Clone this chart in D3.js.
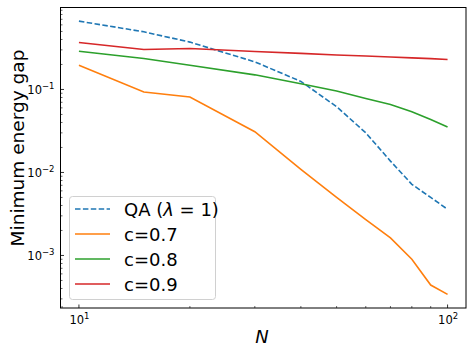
<!DOCTYPE html>
<html><head><meta charset="utf-8">
<script src="https://cdn.jsdelivr.net/npm/d3@7"></script>
<style>
html,body{margin:0;padding:0;background:#fff;}
svg{display:block;font-family:"DejaVu Sans",sans-serif;}
</style></head><body>
<svg id="chart" width="474" height="355"></svg>
<script>
const N = [10, 15, 20, 30, 40, 50, 60, 70, 80, 90, 100];
const qa  = [0.665, 0.495, 0.372, 0.215, 0.125, 0.062, 0.030, 0.0137, 0.0072, 0.0050, 0.0036];
const c07 = [0.196, 0.093, 0.081, 0.031, 0.0109, 0.0050, 0.0027, 0.00163, 0.00090, 0.00044, 0.00034];
const c08 = [0.289, 0.236, 0.196, 0.150, 0.117, 0.096, 0.078, 0.066, 0.054, 0.0435, 0.0352];
const c09 = [0.368, 0.303, 0.312, 0.287, 0.272, 0.260, 0.253, 0.246, 0.240, 0.235, 0.230];
const seriesNames = ["QA", "c=0.7", "c=0.8", "c=0.9"];
const seriesColors = ["#1f77b4", "#ff7f0e", "#2ca02c", "#d62728"];
const xMajorTicks = [10, 100];
const yMajorTicks = [1e-1, 1e-2, 1e-3];
const xLabel = "N";
const yLabel = "Minimum energy gap";

const series = [qa, c07, c08, c09];
const svg = d3.select("#chart");
const m = {l: 60.5, r: 466, t: 7.5, b: 308};

function logPad(lo, hi) {
  const a = Math.log10(lo), b = Math.log10(hi), p = (b - a) * 0.05;
  return [Math.pow(10, a - p), Math.pow(10, b + p)];
}
const allY = series.flat();
const x = d3.scaleLog().domain(logPad(d3.min(N), d3.max(N))).range([m.l, m.r]);
const y = d3.scaleLog().domain(logPad(d3.min(allY), d3.max(allY))).range([m.b, m.t]);

function minorTicks(domain) {
  const out = [];
  const lo = Math.floor(Math.log10(domain[0])), hi = Math.ceil(Math.log10(domain[1]));
  for (let e = lo; e <= hi; e++) for (let k = 2; k <= 9; k++) {
    const v = k * Math.pow(10, e);
    if (v >= domain[0] && v <= domain[1]) out.push(v);
  }
  return out;
}
const g = svg.append("g");
g.selectAll(".xmin").data(minorTicks(x.domain())).enter().append("line")
  .attr("x1", d => x(d)).attr("x2", d => x(d)).attr("y1", m.b).attr("y2", m.b - 2)
  .attr("stroke", "#000").attr("stroke-width", 0.6);
g.selectAll(".xmaj").data(xMajorTicks).enter().append("line")
  .attr("x1", d => x(d)).attr("x2", d => x(d)).attr("y1", m.b).attr("y2", m.b - 3.5)
  .attr("stroke", "#000").attr("stroke-width", 0.8);
g.selectAll(".ymin").data(minorTicks(y.domain())).enter().append("line")
  .attr("y1", d => y(d)).attr("y2", d => y(d)).attr("x1", m.l).attr("x2", m.l + 2)
  .attr("stroke", "#000").attr("stroke-width", 0.6);
g.selectAll(".ymaj").data(yMajorTicks).enter().append("line")
  .attr("y1", d => y(d)).attr("y2", d => y(d)).attr("x1", m.l).attr("x2", m.l + 3.5)
  .attr("stroke", "#000").attr("stroke-width", 0.8);

function expLabel(sel, v) {
  const e = Math.round(Math.log10(v));
  sel.append("tspan").text("10");
  sel.append("tspan").attr("dy", -5).attr("font-size", 8.5).text(e < 0 ? "\u2212" + (-e) : String(e));
}
xMajorTicks.forEach(v => {
  const t = g.append("text").attr("x", x(v) - 9.5).attr("y", m.b + 16).attr("font-size", 11.5).attr("fill", "#000");
  expLabel(t, v);
});
yMajorTicks.forEach(v => {
  const t = g.append("text").attr("x", m.l - 6).attr("y", y(v) + 4.5).attr("font-size", 11.5)
    .attr("text-anchor", "end").attr("fill", "#000");
  expLabel(t, v);
});

const line = d3.line().x((d, i) => x(N[i])).y(d => y(d));
svg.append("defs").append("clipPath").attr("id", "clip").append("rect")
  .attr("x", m.l).attr("y", m.t).attr("width", m.r - m.l).attr("height", m.b - m.t);
const lg = svg.append("g").attr("clip-path", "url(#clip)");
series.forEach((s, i) => {
  lg.append("path").datum(s).attr("d", line).attr("fill", "none")
    .attr("stroke", seriesColors[i]).attr("stroke-width", 1.6)
    .attr("stroke-dasharray", i === 0 ? "5.5,2.4" : null);
});

svg.append("rect").attr("x", m.l).attr("y", m.t).attr("width", m.r - m.l).attr("height", m.b - m.t)
  .attr("fill", "none").attr("stroke", "#000").attr("stroke-width", 1);

svg.append("text").attr("x", 262).attr("y", 343).attr("text-anchor", "middle")
  .attr("font-size", 18).attr("font-style", "italic").text(xLabel);
svg.append("text").attr("transform", `translate(24,148) rotate(-90)`)
  .attr("text-anchor", "middle").attr("font-size", 18.5).text(yLabel);

const leg = svg.append("g");
leg.append("rect").attr("x", 69.5).attr("y", 196.5).attr("width", 146).attr("height", 103).attr("rx", 3)
  .attr("fill", "#fff").attr("fill-opacity", 0.8).attr("stroke", "#d0d0d0").attr("stroke-width", 1);
series.forEach((s, i) => {
  const yy = 209 + i * 25;
  leg.append("line").attr("x1", 75).attr("x2", 110).attr("y1", yy).attr("y2", yy)
    .attr("stroke", seriesColors[i]).attr("stroke-width", 1.6)
    .attr("stroke-dasharray", i === 0 ? "5.5,2.4" : null);
  const t = leg.append("text").attr("x", 124).attr("y", yy + 6.5).attr("font-size", 18).attr("fill", "#000");
  if (i === 0) {
    t.append("tspan").text("QA (");
    t.append("tspan").attr("font-style", "italic").text("\u03bb");
    t.append("tspan").text(" = 1)");
  } else {
    t.text(seriesNames[i]);
  }
});
</script>
</body></html>
